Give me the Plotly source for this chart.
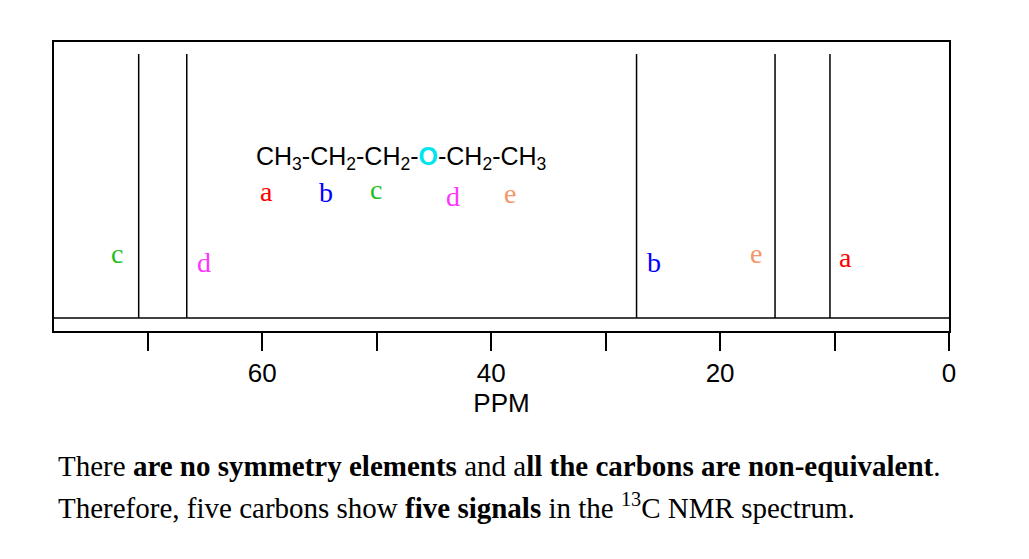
import plotly.graph_objects as go

# peak positions (ppm) and labels
peak_ppm = [70.8, 66.6, 27.3, 15.2, 10.4]
peak_height = [1.0, 1.0, 1.0, 1.0, 1.0]
label_text = ["c", "d", "b", "e", "a"]
label_ppm = [72.7, 65.1, 25.8, 16.9, 9.0]
label_y = [0.245, 0.21, 0.21, 0.245, 0.23]
label_color = ["#22bb22", "#ff33ff", "#0000ff", "#f4956a", "#ff0000"]

# letters under the formula
formula_ppm = [59.6, 54.4, 50.1, 43.3, 38.4]
formula_y = [0.48, 0.475, 0.485, 0.46, 0.47]
formula_text = ["a", "b", "c", "d", "e"]
formula_color = ["#ff0000", "#0000ff", "#22bb22", "#ff33ff", "#f4956a"]

tick_vals = [0, 10, 20, 30, 40, 50, 60, 70]
tick_text = ["0", "", "20", "", "40", "", "60", ""]

xs, ys = [], []
for p, h in zip(peak_ppm, peak_height):
    xs += [p, p, None]
    ys += [0, h, None]

fig = go.Figure()
fig.add_trace(go.Scatter(x=xs, y=ys, mode="lines", line=dict(color="black", width=1.5),
                         hoverinfo="skip", showlegend=False))
fig.add_trace(go.Scatter(x=[78.2, 0], y=[0, 0], mode="lines", line=dict(color="black", width=1.5),
                         hoverinfo="skip", showlegend=False))

serif = "Liberation Serif"
for t, x, y, c in zip(label_text, label_ppm, label_y, label_color):
    fig.add_annotation(x=x, y=y, text=t, showarrow=False, font=dict(family=serif, size=28, color=c))
for t, x, y, c in zip(formula_text, formula_ppm, formula_y, formula_color):
    fig.add_annotation(x=x, y=y, text=t, showarrow=False, font=dict(family=serif, size=28, color=c))

fig.add_annotation(x=47.9, y=0.605, showarrow=False,
                   text="CH<sub>3</sub>-CH<sub>2</sub>-CH<sub>2</sub>-<b><span style='color:#00e5ee'>O</span></b>-CH<sub>2</sub>-CH<sub>3</sub>",
                   font=dict(family="Liberation Sans", size=25, color="black"))

fig.add_annotation(xref="paper", yref="paper", x=0.002, y=-0.53, xanchor="left", showarrow=False,
                   text="There <b>are no symmetry elements</b> and a<b>ll the carbons are non-equivalent</b>.",
                   font=dict(family=serif, size=29, color="black"))
fig.add_annotation(xref="paper", yref="paper", x=0.002, y=-0.675, xanchor="left", showarrow=False,
                   text="Therefore, five carbons show <b>five signals</b> in the <sup>13</sup>C NMR spectrum.",
                   font=dict(family=serif, size=29, color="black"))

fig.update_layout(
    width=1029, height=559, plot_bgcolor="white", paper_bgcolor="white",
    margin=dict(l=46, r=88, t=34, b=236),
    xaxis=dict(range=[78.2, 0], tickvals=tick_vals, ticktext=tick_text, ticks="outside",
               ticklen=18, tickcolor="black", tickwidth=1.5, showgrid=False, zeroline=False,
               showline=True, linecolor="black", linewidth=1.5, mirror=True,
               tickfont=dict(family="Liberation Sans", size=26, color="black"),
               title=dict(text="PPM", font=dict(family="Liberation Sans", size=26, color="black"), standoff=0)),
    yaxis=dict(range=[-0.049, 1.045], showticklabels=False, showgrid=False, zeroline=False,
               showline=True, linecolor="black", linewidth=1.5, mirror=True, ticks=""),
)
fig.write_html("out.html")
